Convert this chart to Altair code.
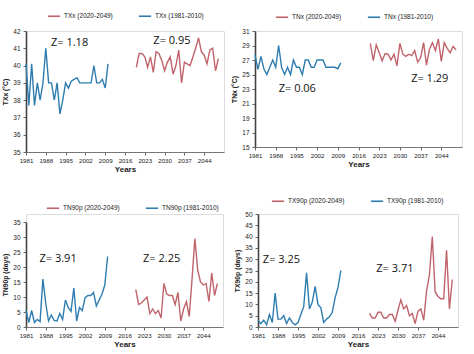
import altair as alt
import pandas as pd

years_hist = list(range(1981, 2011))
years_fut = list(range(2020, 2050))

txx_hist = [40.1, 37.7, 40.1, 37.7, 39.0, 38.0, 39.0, 41.0, 39.0, 39.0,
            38.0, 39.0, 37.2, 38.0, 39.0, 38.7, 39.1, 39.2, 39.3, 39.0,
            39.0, 39.0, 39.0, 39.0, 40.0, 39.0, 39.0, 39.2, 38.7, 40.1]
txx_fut = [39.9, 40.7, 40.7, 40.5, 39.9, 40.5, 39.6, 40.8, 40.7, 40.3,
           39.7, 40.2, 40.5, 39.5, 40.0, 40.9, 39.0, 40.2, 40.1, 40.0,
           40.5, 41.0, 41.6, 40.8, 40.6, 40.1, 40.9, 41.0, 39.7, 40.4]

tnx_hist = [27.7, 25.7, 27.5, 25.8, 25.0, 26.0, 27.0, 26.0, 29.0, 26.0,
            25.0, 26.0, 25.0, 27.0, 26.0, 26.0, 25.0, 27.0, 27.0, 26.0,
            26.0, 27.0, 27.0, 27.0, 26.0, 26.0, 26.0, 26.0, 25.8, 26.6]
tnx_fut = [29.3, 26.9, 29.1, 28.0, 26.9, 27.9, 27.8, 27.0, 27.8, 26.2,
           29.3, 27.8, 27.5, 27.8, 27.6, 28.3, 26.7, 27.3, 29.4, 26.3,
           28.5, 29.4, 28.3, 29.9, 26.8, 29.4, 28.6, 28.0, 28.9, 28.4]

tn90_hist = [5.5, 1.5, 5.5, 1.5, 2.5, 1.8, 16.0, 8.0, 2.0, 4.0,
             2.2, 2.0, 4.5, 2.5, 9.0, 6.5, 5.2, 13.0, 2.0, 6.5,
             5.5, 9.8, 10.5, 10.5, 11.5, 7.0, 9.0, 11.0, 14.0, 23.5]
tn90_fut = [12.5, 7.5, 8.0, 9.0, 10.0, 4.5, 6.0, 4.5, 5.5, 3.0,
            14.5, 11.0, 10.5, 10.5, 7.5, 11.5, 2.0, 6.0, 8.5, 3.5,
            16.0, 29.5, 19.0, 15.0, 14.0, 14.5, 8.5, 18.0, 10.5, 14.5]

tx90_hist = [3.0, 1.5, 3.0, 1.0, 5.5, 2.0, 15.0, 3.5, 3.5, 5.0,
             1.5, 4.0, 2.0, 1.0, 2.0, 5.5, 9.0, 24.0, 8.0, 11.0,
             18.0, 10.0, 8.5, 2.0, 3.5, 4.5, 6.5, 13.0, 17.5, 25.0]
tx90_fut = [6.0, 4.0, 4.0, 6.5, 6.5, 4.0, 4.0, 5.5, 5.5, 2.5,
            7.5, 12.0, 8.0, 9.5, 5.0, 6.0, 1.5, 7.0, 8.0, 3.0,
            16.0, 23.0, 40.0, 15.5, 13.5, 12.5, 12.5, 34.0, 8.0, 21.0]

x_ticks = [1981, 1988, 1995, 2002, 2009, 2016, 2023, 2030, 2037, 2044]

RED = "#c0646c"
BLUE = "#2f7db0"
FONT = "Liberation Sans"


def panel(name, hist, fut, ydom, ystep, ytitle, zvals, w, h, lx, ly, top_gap=0):
    lab_f = f"{name} (2020-2049)"
    lab_h = f"{name} (1981-2010)"
    df = pd.DataFrame({
        "year": years_fut + years_hist,
        "value": fut + hist,
        "series": [lab_f] * len(fut) + [lab_h] * len(hist),
    })
    yticks = list(range(ydom[0], ydom[1] + 1, ystep))
    x_enc = alt.X("year:Q", scale=alt.Scale(domain=[1981, 2051], nice=False, zero=False),
                  axis=alt.Axis(values=x_ticks, format="d", title="Years",
                                labelOverlap=False, labelFlush=False, tickCount=10))
    y_enc = alt.Y("value:Q",
                  scale=alt.Scale(domain=list(ydom), nice=False, zero=False,
                                  range=[h, top_gap]),
                  axis=alt.Axis(values=yticks, title=ytitle, domainWidth=1.6,
                                labelOverlap=False, labelFlush=False,
                                tickCount=len(yticks),
                                domainColor="#444", titleFontSize=6.8, titlePadding=4,
                                labelPadding=3, labelFontSize=6.5))
    lines = alt.Chart(df).mark_line(strokeWidth=1.4).encode(
        x=x_enc, y=y_enc,
        color=alt.Color("series:N",
                        scale=alt.Scale(domain=[lab_f, lab_h], range=[RED, BLUE]),
                        legend=alt.Legend(orient="none", legendX=lx, legendY=ly,
                                          direction="horizontal", title=None,
                                          symbolType="stroke", symbolStrokeWidth=1.6,
                                          symbolSize=150, labelFont=FONT, labelFontSize=6.5,
                                          labelColor="#222", columnPadding=22,
                                          labelOffset=3)),
    )
    zdf = pd.DataFrame({
        "year": [zvals[0][0], zvals[1][0]],
        "value": [zvals[0][1], zvals[1][1]],
        "label": [zvals[0][2], zvals[1][2]],
    })
    texts = alt.Chart(zdf).mark_text(font="Open Sans", fontSize=11, color="#111").encode(
        x=x_enc, y=y_enc, text="label:N")
    return (lines + texts).properties(width=w, height=h)


p1 = panel("TXx", txx_hist, txx_fut, (35, 42), 1, "TXx (°C)",
           [(1996.4, 41.3, "Z= 1.18"), (2032.6, 41.4, "Z= 0.95")], 198, 121, 21, -22)
p2 = panel("TNx", tnx_hist, tnx_fut, (15, 31), 2, "TNx (°C)",
           [(1995.3, 23.0, "Z= 0.06"), (2040.1, 24.4, "Z= 1.29")], 207, 116, 20, -21)
p3 = panel("TN90p", tn90_hist, tn90_fut, (0, 35), 5, "TN90p (days)",
           [(1992.4, 22.7, "Z= 3.91"), (2029.2, 22.7, "Z= 2.25")], 197, 113, 20, -13, 8)
p4 = panel("TX90p", tx90_hist, tx90_fut, (0, 50), 5, "TX90p (days)",
           [(1989.2, 29.7, "Z= 3.25"), (2028.9, 25.6, "Z= 3.71")], 200, 113, 13, -20)

res = dict(color="independent", x="independent", y="independent")
top = alt.hconcat(p1, p2, spacing=6).resolve_scale(**res)
bottom = alt.hconcat(p3, p4, spacing=10).resolve_scale(**res)
chart = alt.vconcat(top, bottom, spacing=19).resolve_scale(**res).properties(
    padding={"left": 2, "top": 8, "right": 2, "bottom": 2}
).configure_view(stroke=None).configure(background="white").configure_axis(
    grid=False, labelOverlap=False, labelFlush=False,
    labelFont=FONT, labelFontSize=6.2, labelColor="#222", labelPadding=2,
    titleFont=FONT, titleFontSize=8, titleFontWeight="bold", titleColor="#222",
    titlePadding=2, tickSize=3, tickColor="#666", domainColor="#777"
)

chart.save("out.html", embed_options={"renderer": "svg", "actions": False})
